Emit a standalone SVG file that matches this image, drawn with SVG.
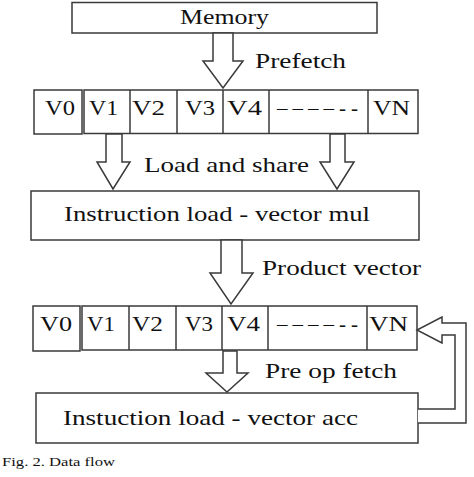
<svg xmlns="http://www.w3.org/2000/svg" width="474" height="477" viewBox="0 0 474 477">
<style>
.box{fill:#fff;stroke:#3a3a3a;stroke-width:1.5}
.arr{fill:#fff;stroke:#3a3a3a;stroke-width:1.5;stroke-linejoin:miter}
text{font-family:"Liberation Serif","Times New Roman",serif;fill:#111}
.t{font-size:21px}
.cap{font-size:13px}
</style>
<rect width="474" height="477" fill="#fff"/>
<g id="memory">
<rect class="box" x="72" y="2.5" width="305" height="30.5"/>
<text class="t" x="180" y="24" textLength="89" lengthAdjust="spacingAndGlyphs">Memory</text>
</g>
<g id="vector-row-1">
<rect class="box" x="34" y="90" width="48" height="44"/>
<rect class="box" x="84" y="90" width="334" height="43.5"/>
<line class="box" x1="130" y1="90" x2="130" y2="133.5"/>
<line class="box" x1="177" y1="90" x2="177" y2="133.5"/>
<line class="box" x1="223" y1="90" x2="223" y2="133.5"/>
<line class="box" x1="269" y1="90" x2="269" y2="133.5"/>
<line class="box" x1="368" y1="90" x2="368" y2="133.5"/>
<text class="t" x="45" y="115" textLength="30" lengthAdjust="spacingAndGlyphs">V0</text>
<text class="t" x="89" y="115" textLength="29" lengthAdjust="spacingAndGlyphs">V1</text>
<text class="t" x="132" y="115" textLength="33" lengthAdjust="spacingAndGlyphs">V2</text>
<text class="t" x="185" y="115" textLength="30" lengthAdjust="spacingAndGlyphs">V3</text>
<text class="t" x="227" y="115" textLength="35" lengthAdjust="spacingAndGlyphs">V4</text>
<text class="t" x="277" y="115" textLength="81" lengthAdjust="spacing">– – – – - -</text>
<text class="t" x="373" y="115" textLength="37" lengthAdjust="spacingAndGlyphs">VN</text>
</g>
<g id="vector-mul">
<rect class="box" x="31" y="191" width="388" height="49"/>
<text class="t" x="64" y="221" textLength="306" lengthAdjust="spacingAndGlyphs">Instruction load - vector mul</text>
</g>
<g id="vector-row-2">
<rect class="box" x="33" y="306" width="47" height="45"/>
<rect class="box" x="82" y="306" width="335" height="44"/>
<line class="box" x1="129" y1="306" x2="129" y2="350"/>
<line class="box" x1="176" y1="306" x2="176" y2="350"/>
<line class="box" x1="222" y1="306" x2="222" y2="350"/>
<line class="box" x1="268" y1="306" x2="268" y2="350"/>
<line class="box" x1="367" y1="306" x2="367" y2="350"/>
<text class="t" x="40" y="331" textLength="32" lengthAdjust="spacingAndGlyphs">V0</text>
<text class="t" x="87" y="331" textLength="28" lengthAdjust="spacingAndGlyphs">V1</text>
<text class="t" x="132" y="331" textLength="31" lengthAdjust="spacingAndGlyphs">V2</text>
<text class="t" x="185" y="331" textLength="28" lengthAdjust="spacingAndGlyphs">V3</text>
<text class="t" x="227" y="331" textLength="33" lengthAdjust="spacingAndGlyphs">V4</text>
<text class="t" x="277" y="331" textLength="81" lengthAdjust="spacing">– – – – - -</text>
<text class="t" x="369" y="331" textLength="39" lengthAdjust="spacingAndGlyphs">VN</text>
</g>
<g id="vector-acc">
<rect class="box" x="36" y="393" width="382" height="50"/>
<text class="t" x="63" y="425" textLength="295" lengthAdjust="spacingAndGlyphs">Instuction load - vector acc</text>
</g>
<g id="connectors">
<polygon class="arr" points="213,33 233,33 233,61 243,61 223,88 203,61 213,61"/>
<text class="t" x="255" y="68" textLength="91" lengthAdjust="spacingAndGlyphs">Prefetch</text>
<polygon class="arr" points="106,134 122,134 122,162 130,162 113,189 97,162 106,162"/>
<polygon class="arr" points="330,134 345,134 345,162 354,162 337,189 320,162 330,162"/>
<text class="t" x="144" y="172" textLength="165" lengthAdjust="spacingAndGlyphs">Load and share</text>
<polygon class="arr" points="221,240 242,240 242,273 253,273 231,304 210,273 221,273"/>
<text class="t" x="262" y="275" textLength="159" lengthAdjust="spacingAndGlyphs">Product vector</text>
<polygon class="arr" points="223,351 237,351 237,373 248,373 227,392 206,373 223,373"/>
<text class="t" x="265" y="378" textLength="132" lengthAdjust="spacingAndGlyphs">Pre op fetch</text>
<polyline class="arr" points="418,409 455,409 455,335 442,335 442,343 417,330 442,317 442,323 466,323 466,423 418,423"/>
</g>
<text class="cap" x="2" y="466" textLength="113" lengthAdjust="spacingAndGlyphs">Fig. 2. Data flow</text>
</svg>
